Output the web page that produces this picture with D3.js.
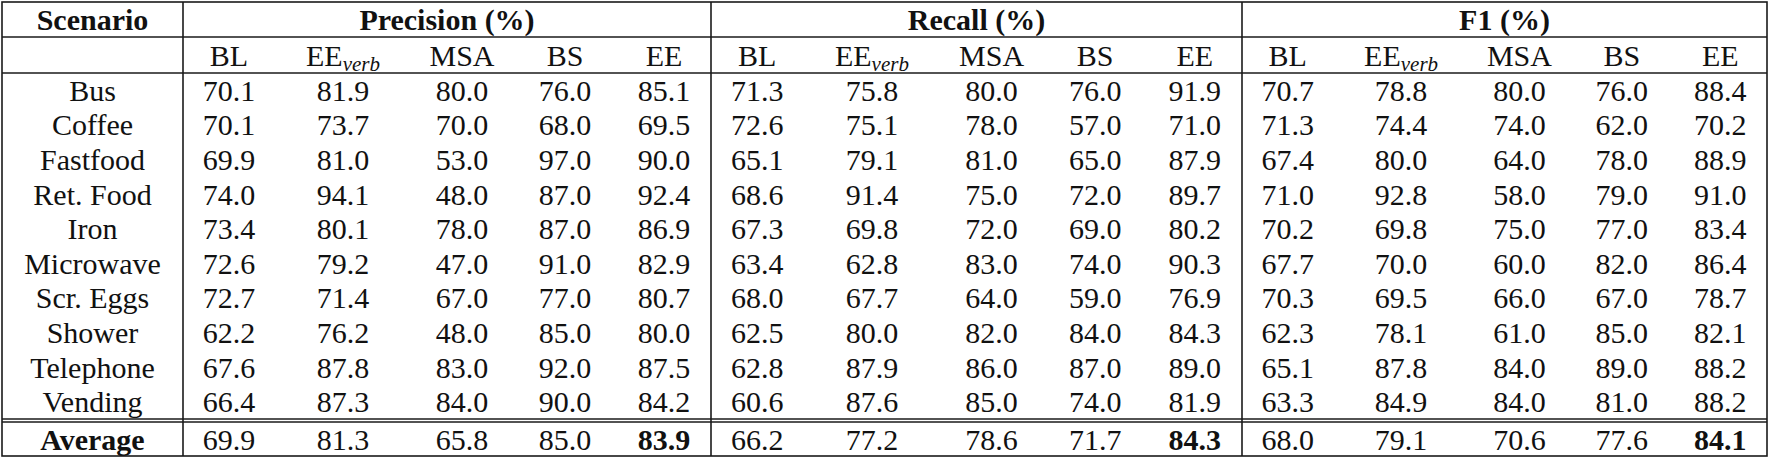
<!DOCTYPE html>
<html>
<head>
<meta charset="utf-8">
<script src="https://cdn.jsdelivr.net/npm/d3@7"></script>
<style>
  body { margin: 0; background: #fff; }
  svg { display: block; }
</style>
</head>
<body>
<svg id="table"></svg>
<script>
const scenarios = ["Bus", "Coffee", "Fastfood", "Ret. Food", "Iron", "Microwave", "Scr. Eggs", "Shower", "Telephone", "Vending"];
const metrics = ["Precision (%)", "Recall (%)", "F1 (%)"];
const methods = ["BL", "EEverb", "MSA", "BS", "EE"];

// rows follow scenarios, columns follow methods
const precision = [
  [70.1, 81.9, 80.0, 76.0, 85.1],
  [70.1, 73.7, 70.0, 68.0, 69.5],
  [69.9, 81.0, 53.0, 97.0, 90.0],
  [74.0, 94.1, 48.0, 87.0, 92.4],
  [73.4, 80.1, 78.0, 87.0, 86.9],
  [72.6, 79.2, 47.0, 91.0, 82.9],
  [72.7, 71.4, 67.0, 77.0, 80.7],
  [62.2, 76.2, 48.0, 85.0, 80.0],
  [67.6, 87.8, 83.0, 92.0, 87.5],
  [66.4, 87.3, 84.0, 90.0, 84.2]
];
const recall = [
  [71.3, 75.8, 80.0, 76.0, 91.9],
  [72.6, 75.1, 78.0, 57.0, 71.0],
  [65.1, 79.1, 81.0, 65.0, 87.9],
  [68.6, 91.4, 75.0, 72.0, 89.7],
  [67.3, 69.8, 72.0, 69.0, 80.2],
  [63.4, 62.8, 83.0, 74.0, 90.3],
  [68.0, 67.7, 64.0, 59.0, 76.9],
  [62.5, 80.0, 82.0, 84.0, 84.3],
  [62.8, 87.9, 86.0, 87.0, 89.0],
  [60.6, 87.6, 85.0, 74.0, 81.9]
];
const f1 = [
  [70.7, 78.8, 80.0, 76.0, 88.4],
  [71.3, 74.4, 74.0, 62.0, 70.2],
  [67.4, 80.0, 64.0, 78.0, 88.9],
  [71.0, 92.8, 58.0, 79.0, 91.0],
  [70.2, 69.8, 75.0, 77.0, 83.4],
  [67.7, 70.0, 60.0, 82.0, 86.4],
  [70.3, 69.5, 66.0, 67.0, 78.7],
  [62.3, 78.1, 61.0, 85.0, 82.1],
  [65.1, 87.8, 84.0, 89.0, 88.2],
  [63.3, 84.9, 84.0, 81.0, 88.2]
];
const avgPrecision = [69.9, 81.3, 65.8, 85.0, 83.9];
const avgRecall = [66.2, 77.2, 78.6, 71.7, 84.3];
const avgF1 = [68.0, 79.1, 70.6, 77.6, 84.1];

const width = 1773;
const height = 461;
const fontFamily = "'Liberation Serif', monospace";
const fontSize = 30;
const lineColor = "#1a1a1a";

// touch the serif face once so it is resolved before the svg paints
const probe = document.createElement("canvas").getContext("2d");
["", "bold ", "italic "].forEach(s => {
  probe.font = s + fontSize + "px " + fontFamily;
  probe.measureText("Scenario 70.1");
});

const svg = d3.select("#table")
  .attr("width", width)
  .attr("height", height);

// geometry of the table
const xLeft = 2, xRight = 1767, firstCol = 183;
const groupEdges = [firstCol, 711, 1242, xRight];
const yTop = 2, head1 = 37, head2 = 73, dataBottom = 419, avgTop = 422, yBottom = 456;

// relative widths of the five sub-columns inside a metric group
const colWeights = [92, 136, 102, 104, 94];
const cum = d3.cumsum([0, ...colWeights]);
const totalW = cum[cum.length - 1];

function colCenter(gi, j) {
  const x = d3.scaleLinear().domain([0, totalW]).range([groupEdges[gi], groupEdges[gi + 1]]);
  return x((cum[j] + cum[j + 1]) / 2);
}

const yRow = d3.scaleBand()
  .domain(d3.range(scenarios.length))
  .range([head2, dataBottom])
  .padding(0);

const tables = [precision, recall, f1];
const averages = [avgPrecision, avgRecall, avgF1];

const g = svg.append("g")
  .attr("font-size", fontSize)
  .attr("fill", "#111")
  .attr("text-anchor", "middle");

function cell(sel) {
  return sel.style("font-family", fontFamily).attr("dy", "0.35em");
}

// header row 1
g.append("text")
  .call(cell)
  .attr("x", (xLeft + firstCol) / 2)
  .attr("y", (yTop + head1) / 2)
  .attr("font-weight", "bold")
  .text("Scenario");

g.selectAll(".metric")
  .data(metrics)
  .join("text")
  .call(cell)
  .attr("class", "metric")
  .attr("x", (d, i) => (groupEdges[i] + groupEdges[i + 1]) / 2)
  .attr("y", (yTop + head1) / 2)
  .attr("font-weight", "bold")
  .text(d => d);

// header row 2
metrics.forEach((m, gi) => {
  methods.forEach((name, j) => {
    const t = g.append("text")
      .call(cell)
      .attr("x", colCenter(gi, j))
      .attr("y", (head1 + head2) / 2);
    if (name === "EEverb") {
      t.append("tspan").text("EE");
      t.append("tspan")
        .attr("font-style", "italic")
        .attr("font-size", 21)
        .attr("dy", 5)
        .text("verb");
    } else {
      t.text(name);
    }
  });
});

// scenario names
g.selectAll(".scen")
  .data(scenarios)
  .join("text")
  .call(cell)
  .attr("class", "scen")
  .attr("x", (xLeft + firstCol) / 2)
  .attr("y", (d, i) => yRow(i) + yRow.bandwidth() / 2)
  .text(d => d);

// values
tables.forEach((tbl, gi) => {
  tbl.forEach((row, ri) => {
    g.append("g").selectAll("text")
      .data(row)
      .join("text")
      .call(cell)
      .attr("x", (d, j) => colCenter(gi, j))
      .attr("y", yRow(ri) + yRow.bandwidth() / 2)
      .text(d => d.toFixed(1));
  });
});

// average row, EE column in bold
const avgY = (avgTop + yBottom) / 2;
g.append("text")
  .call(cell)
  .attr("x", (xLeft + firstCol) / 2)
  .attr("y", avgY)
  .attr("font-weight", "bold")
  .text("Average");

averages.forEach((row, gi) => {
  g.append("g").selectAll("text")
    .data(row)
    .join("text")
    .call(cell)
    .attr("x", (d, j) => colCenter(gi, j))
    .attr("y", avgY)
    .attr("font-weight", (d, j) => methods[j] === "EE" ? "bold" : "normal")
    .text(d => d.toFixed(1));
});

// rules
const lines = svg.append("g")
  .attr("stroke", lineColor)
  .attr("stroke-width", 1.6)
  .attr("fill", "none");

lines.append("rect")
  .attr("x", xLeft).attr("y", yTop)
  .attr("width", xRight - xLeft).attr("height", yBottom - yTop);

lines.selectAll(".hl")
  .data([head1, head2, dataBottom, avgTop])
  .join("line")
  .attr("class", "hl")
  .attr("x1", xLeft).attr("x2", xRight)
  .attr("y1", d => d).attr("y2", d => d);

lines.selectAll(".vl")
  .data(groupEdges.slice(0, 3))
  .join("line")
  .attr("class", "vl")
  .attr("x1", d => d).attr("x2", d => d)
  .attr("y1", yTop).attr("y2", yBottom);
</script>
</body>
</html>
